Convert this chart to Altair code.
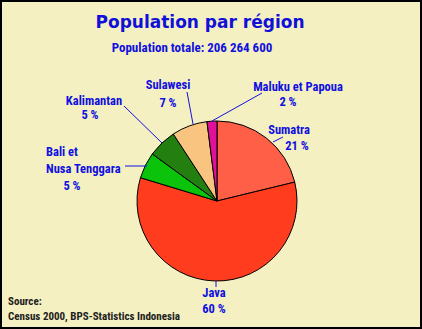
import altair as alt
import pandas as pd

# ---- data ----
regions = ["Sumatra", "Java", "Bali et Nusa Tenggara", "Kalimantan", "Sulawesi", "Maluku et Papoua"]
shares = [21.2, 58.5, 5.3, 5.8, 7.2, 2.0]
pct_labels = ["21 %", "60 %", "5 %", "5 %", "7 %", "2 %"]
colors = ["#FF5F46", "#FF3C1E", "#0AC30A", "#238010", "#F8C480", "#E0109A"]
title_text = "Population par région"
subtitle_text = "Population totale: 206 264 600"
source_lines = ["Source:", "Census 2000, BPS-Statistics Indonesia"]

# ---- layout (pixels) ----
W, H = 422, 329
CX, CY, R = 217, 201, 80
BG = "#F5F0C1"
BLUE = "#1010E0"
# name label lines: (region, text, x, y, align)
name_layout = [
    ("Sumatra", "Sumatra", 289, 130, "center"),
    ("Java", "Java", 214, 293, "center"),
    ("Bali et Nusa Tenggara", "Bali et", 46, 152, "left"),
    ("Bali et Nusa Tenggara", "Nusa Tenggara", 46, 169, "left"),
    ("Kalimantan", "Kalimantan", 94, 101, "center"),
    ("Sulawesi", "Sulawesi", 168, 85, "center"),
    ("Maluku et Papoua", "Maluku et Papoua", 298, 87, "center"),
]
pct_layout = [(297, 146), (214, 309), (72, 186), (90, 115), (168, 103), (288, 102)]
leader_layout = [(283, 137, 273, 142), (216, 281, 216, 287), (125, 166, 147, 166),
                 (124, 106, 162, 143), (187, 92, 193, 124), (262, 93, 212, 121)]

df = pd.DataFrame({"region": regions, "share": shares, "idx": range(len(regions))})

pie = alt.Chart(df).mark_arc(outerRadius=R, stroke="black", strokeWidth=1).encode(
    theta=alt.Theta("share:Q", stack=True),
    order=alt.Order("idx:Q"),
    color=alt.Color("region:N", scale=alt.Scale(domain=regions, range=colors), legend=None),
    x=alt.value(CX),
    y=alt.value(CY),
)

lead_df = pd.DataFrame([{"region": r, "x": a, "y": b, "x2": c, "y2": d}
                        for r, (a, b, c, d) in zip(regions, leader_layout)])
leaders = alt.Chart(lead_df).mark_rule(color=BLUE, strokeWidth=1).encode(
    x=alt.X("x:Q", scale=None, axis=None), y=alt.Y("y:Q", scale=None, axis=None),
    x2="x2:Q", y2="y2:Q")

lab_rows = [{"t": t, "x": x, "y": y, "al": al} for (_, t, x, y, al) in name_layout]
lab_rows += [{"t": p, "x": x, "y": y, "al": "center"} for p, (x, y) in zip(pct_labels, pct_layout)]
lab_df = pd.DataFrame(lab_rows)

FONT = "Roboto Condensed, DejaVu Sans Condensed, sans-serif"

def txt(data, align, size, color, weight="bold", font=FONT):
    return alt.Chart(data).mark_text(align=align, baseline="middle", font=font,
                                     fontSize=size, fontWeight=weight, color=color).encode(
        x=alt.X("x:Q", scale=None, axis=None), y=alt.Y("y:Q", scale=None, axis=None), text="t:N")

lab_c = txt(lab_df[lab_df.al == "center"], "center", 12.5, BLUE)
lab_l = txt(lab_df[lab_df.al == "left"], "left", 12.5, BLUE)

title_df = pd.DataFrame({"t": [title_text], "x": [200], "y": [23]})
title = txt(title_df, "center", 17, "#1010D8", font="DejaVu Sans")
sub_df = pd.DataFrame({"t": [subtitle_text], "x": [192], "y": [48]})
sub = txt(sub_df, "center", 13, BLUE)
src_df = pd.DataFrame({"t": source_lines, "x": [8, 8], "y": [302, 317]})
src = txt(src_df, "left", 11, "#202020")

chart = alt.layer(pie, leaders, lab_c, lab_l, title, sub, src).properties(
    width=W, height=H, padding=0, autosize=alt.AutoSizeParams(type="none"),
    background=BG,
).configure_view(fill=BG, stroke="black", strokeWidth=4)

chart.save("out.html", embed_options={"renderer": "svg", "actions": False})
